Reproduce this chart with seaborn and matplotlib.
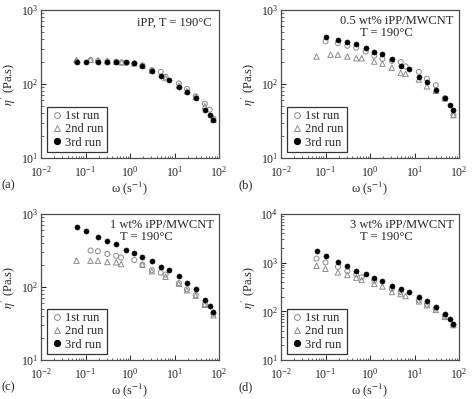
import numpy as np
import pandas as pd
import matplotlib
matplotlib.use("Agg")
import matplotlib.pyplot as plt
import seaborn as sns
from matplotlib.ticker import LogLocator, NullFormatter
from matplotlib.lines import Line2D

sns.set_theme(style="white")
plt.rcParams["font.family"] = ["Liberation Serif", "DejaVu Serif"]
plt.rcParams["mathtext.fontset"] = "stix"

# ---------------- data ----------------
W = [0.0628, 0.1, 0.19, 0.31, 0.49, 0.8, 1.25, 1.9, 3.1, 4.9, 7.5, 12.5, 19, 30, 48, 62, 75]

# (a) iPP
a1_x = [0.0628, 0.13, 0.19, 0.31, 0.49, 0.65, 0.85, 1.25, 1.9, 3.1, 4.9, 6.3, 12.5, 19, 30, 48, 62, 75]
a1_y = [200, 211, 205, 202, 200, 196, 193, 190, 178, 154, 146, 125, 102, 86, 68, 54, 45, 34]
a2_x = [0.0628, 0.13, 0.19, 0.31, 0.49, 0.65, 1.25, 1.9, 3.1, 6.3, 12.5, 19, 30, 48, 75]
a2_y = [212, 212, 210, 204, 200, 195, 190, 178, 152, 120, 95, 80, 67, 50, 33]
a3_x = W
a3_y = [199, 199, 201, 201, 199, 199, 191, 176, 151, 129, 113, 91, 78, 64, 45, 38, 33]

# (b) 0.5 wt%
b1_x = [0.1, 0.19, 0.31, 0.49, 0.8, 1.25, 1.9, 3.1, 4.9, 6.3, 12.5, 19, 30, 48, 75]
b1_y = [377, 357, 329, 310, 274, 242, 219, 205, 198, 173, 146, 118, 96, 64, 38]
b2_x = [0.0628, 0.13, 0.19, 0.31, 0.49, 0.65, 1.25, 1.9, 3.1, 4.9, 6.3, 12.5, 19, 30, 48, 75]
b2_y = [235, 249, 249, 235, 223, 223, 201, 188, 166, 141, 137, 115, 93, 81, 64, 38]
b3_x = W[1:]
b3_y = [426, 395, 372, 344, 307, 274, 255, 219, 176, 160, 123, 107, 84, 64, 52, 45]

# (c) 1 wt%
c1_x = [0.13, 0.19, 0.31, 0.49, 0.63, 1.25, 1.9, 3.1, 4.9, 6.3, 12.5, 19, 30, 48, 75]
c1_y = [316, 309, 284, 267, 254, 234, 202, 170, 157, 148, 113, 93, 78, 58, 43]
c2_x = [0.0628, 0.13, 0.19, 0.31, 0.49, 0.63, 1.9, 3.1, 6.3, 12.5, 19, 30, 48, 75]
c2_y = [229, 229, 229, 220, 218, 206, 202, 164, 138, 111, 90, 76, 57, 41]
c3_x = W
c3_y = [667, 589, 489, 432, 393, 326, 291, 259, 229, 186, 171, 141, 113, 94, 67, 55, 46]

# (d) 3 wt%
d1_x = [0.0628, 0.1, 0.19, 0.31, 0.49, 0.65, 1.25, 3.1, 4.9, 12.5, 19, 30, 48, 75]
d1_y = [1217, 1009, 822, 673, 576, 501, 428, 289, 249, 168, 139, 114, 81, 52]
d2_x = [0.0628, 0.1, 0.19, 0.31, 0.49, 0.65, 1.25, 1.9, 3.1, 4.9, 6.3, 12.5, 19, 30, 48, 75]
d2_y = [861, 748, 631, 557, 492, 441, 366, 324, 249, 226, 206, 160, 133, 107, 77, 52]
d3_x = W
d3_y = [1734, 1355, 1023, 838, 673, 593, 492, 428, 334, 286, 249, 193, 163, 125, 89, 70, 55]

runs = ["1st run", "2nd run", "3rd run"]
panel_letters = ["(a)", "(b)", "(c)", "(d)"]
panel_texts = [["iPP, T = 190°C"],
               ["0.5 wt% iPP/MWCNT", "T = 190°C"],
               ["1 wt% iPP/MWCNT", "T = 190°C"],
               ["3 wt% iPP/MWCNT", "T = 190°C"]]
ylims = [(10, 1000), (10, 1000), (10, 1000), (10, 10000)]
series = [
    [(a1_x, a1_y), (a2_x, a2_y), (a3_x, a3_y)],
    [(b1_x, b1_y), (b2_x, b2_y), (b3_x, b3_y)],
    [(c1_x, c1_y), (c2_x, c2_y), (c3_x, c3_y)],
    [(d1_x, d1_y), (d2_x, d2_y), (d3_x, d3_y)],
]

# ---------------- figure ----------------
FW, FH = 474, 399
fig = plt.figure(figsize=(FW / 100, FH / 100), dpi=100)

# axes boxes in pixels: left, top, right, bottom
boxes = [(41, 10, 219, 158), (281, 10, 459, 158),
         (41, 214, 219, 360), (281, 214, 459, 360)]
letter_x = [2, 239, 2, 239]

grey = "0.55"
styles = [dict(marker="o", s=13, facecolor="none", edgecolor=grey, linewidth=0.7),
          dict(marker="^", s=15, facecolor="none", edgecolor=grey, linewidth=0.7),
          dict(marker="o", s=14, facecolor="black", edgecolor="black", linewidth=0.3)]

fs = 9
tfs = 8.5
for i, (box, ser) in enumerate(zip(boxes, series)):
    l, t, r, b = box
    ax = fig.add_axes([l / FW, 1 - b / FH, (r - l) / FW, (b - t) / FH])
    for run, (xs, ys), st in zip(runs, ser, styles):
        df = pd.DataFrame({"omega": xs, "eta": ys})
        sns.scatterplot(data=df, x="omega", y="eta", ax=ax, legend=False, **st)
    ax.set_xscale("log")
    ax.set_yscale("log")
    ax.set_xlim(0.01, 100)
    ax.set_ylim(*ylims[i])
    ax.xaxis.set_major_locator(LogLocator(base=10, numticks=10))
    ax.xaxis.set_minor_locator(LogLocator(base=10, subs=np.arange(2, 10), numticks=20))
    ax.yaxis.set_major_locator(LogLocator(base=10, numticks=10))
    ax.yaxis.set_minor_locator(LogLocator(base=10, subs=np.arange(2, 10), numticks=20))
    ax.xaxis.set_minor_formatter(NullFormatter())
    ax.yaxis.set_minor_formatter(NullFormatter())
    ax.tick_params(which="major", direction="in", length=3.5, width=0.7,
                   labelsize=tfs, pad=2, bottom=True, left=True, top=False, right=False)
    ax.tick_params(axis="x", which="major", pad=5)
    ax.tick_params(which="minor", direction="in", length=1.8, width=0.5,
                   bottom=True, left=True, top=False, right=False)
    for sp in ax.spines.values():
        sp.set_color("0.3")
        sp.set_linewidth(0.9)
    ax.set_xlabel(r"ω (s$^{-1}$)", fontsize=fs, labelpad=0)
    ax.set_ylabel(r"$\eta'$ (Pa.s)", fontsize=fs, labelpad=2)
    # annotation text
    txt = panel_texts[i]
    if len(txt) == 1:
        ax.text(0.96, 0.955, txt[0], transform=ax.transAxes, ha="right", va="top", fontsize=fs)
    else:
        ax.text(0.97, 0.965, txt[0], transform=ax.transAxes, ha="right", va="top", fontsize=fs)
        ax.text(0.59, 0.885, txt[1], transform=ax.transAxes, ha="center", va="top", fontsize=fs)
    # legend
    handles = [Line2D([], [], linestyle="none", marker="o", markersize=4.2, markerfacecolor="none",
                      markeredgecolor=grey, markeredgewidth=0.7),
               Line2D([], [], linestyle="none", marker="^", markersize=4.5, markerfacecolor="none",
                      markeredgecolor=grey, markeredgewidth=0.7),
               Line2D([], [], linestyle="none", marker="o", markersize=4.2, markerfacecolor="black",
                      markeredgecolor="black")]
    leg = ax.legend(handles, runs, loc="lower left", fontsize=fs, frameon=True, fancybox=False,
                    borderaxespad=0.5, handletextpad=0.2, labelspacing=0.1, borderpad=0.25,
                    handlelength=1.0)
    leg.get_frame().set_edgecolor("black")
    leg.get_frame().set_linewidth(0.9)
    # panel letter
    fig.text(letter_x[i] / FW, 1 - (b + 27) / FH, panel_letters[i], fontsize=fs,
             ha="left", va="center")

fig.savefig("out.png", dpi=100)
